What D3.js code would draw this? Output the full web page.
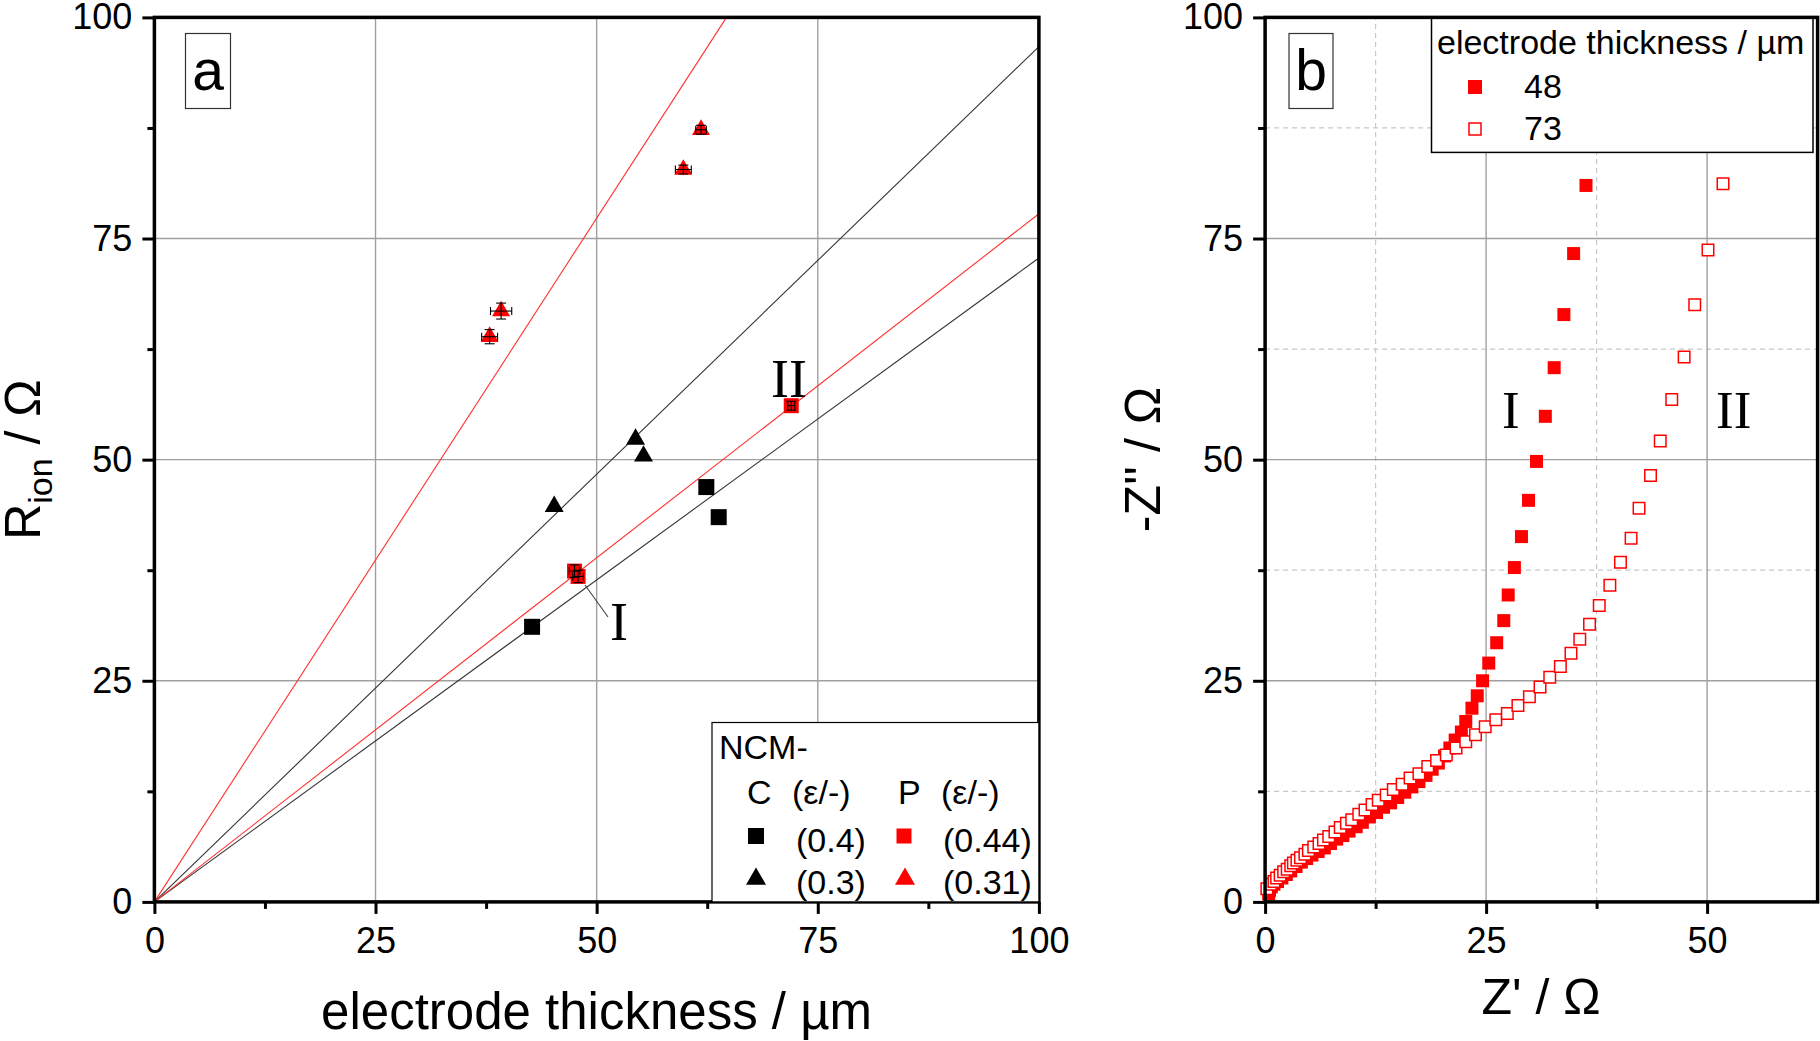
<!DOCTYPE html>
<html lang="en">
<head>
<meta charset="UTF-8" />
<title>R_ion vs electrode thickness and impedance spectra</title>
<script src="https://d3js.org/d3.v7.min.js"></script>
<style>
  body { margin: 0; background: #fff; }
  svg { display: block; font-family: Arial, "Liberation Sans", sans-serif; }
</style>
</head>
<body>
<svg id="chart" width="1820" height="1041"></svg>
<script>
// ---- panel a : ionic resistance vs electrode thickness ----
const thickC04 = [42.7, 62.4, 63.8];
const rionC04  = [31.1, 46.9, 43.5];
const thickC03 = [45.2, 54.4, 55.3];
const rionC03  = [44.7, 52.3, 50.4];
const thickP044 = [47.5, 47.9, 72.0];
const rionP044  = [37.4, 36.8, 56.1];
const xerrP044  = [0.6, 0.6, 0.4];
const yerrP044  = [0.7, 0.7, 0.5];
const thickP031 = [37.9, 39.2, 59.8, 61.8];
const rionP031  = [63.9, 66.8, 82.8, 87.3];
const xerrP031  = [0.9, 1.2, 0.9, 0.6];
const yerrP031  = [0.8, 0.9, 0.5, 0.5];
// linear fits through the origin (Ω per µm)
const fitNames  = ["C04", "C03", "P044", "P031"];
const fitSlopes = [0.728, 0.967, 0.778, 1.546];

// ---- panel b : Nyquist plot, 48 µm and 73 µm ----
const zRe48 = [0.4, 0.5, 0.7, 1.0, 1.4, 1.9, 2.4, 2.9, 3.5, 4.1, 4.7, 5.3, 6.0, 6.7, 7.4, 8.1, 8.8, 9.5,
  10.3, 11.0, 11.8, 12.6, 13.4, 14.2, 15.0, 15.8, 16.6, 17.4, 18.2, 18.9, 19.6, 20.3, 20.9, 21.5, 22.2,
  22.7, 23.4, 24.0, 24.6, 25.3, 26.2, 27.0, 27.5, 28.2, 29.0, 29.8, 30.7, 31.7, 32.7, 33.8, 34.9, 36.3];
const zIm48 = [0.9, 1.3, 1.7, 2.0, 2.3, 2.7, 3.1, 3.5, 4.0, 4.5, 4.9, 5.3, 5.7, 6.1, 6.6, 7.1, 7.5, 8.0,
  8.5, 9.0, 9.6, 10.1, 10.7, 11.2, 11.8, 12.4, 13.0, 13.6, 14.3, 15.0, 15.7, 16.5, 17.4, 18.3, 19.2,
  20.4, 21.9, 23.3, 25.0, 27.0, 29.3, 31.8, 34.7, 37.8, 41.3, 45.4, 49.8, 54.9, 60.4, 66.4, 73.3, 81.0];
const zRe73 = [0.2, 0.6, 1.0, 1.3, 1.7, 2.1, 2.5, 2.9, 3.2, 3.6, 4.0, 4.5, 4.9, 5.5, 6.1, 6.6, 7.2, 7.9,
  8.5, 9.2, 9.8, 10.6, 11.3, 12.1, 12.8, 13.7, 14.5, 15.5, 16.4, 17.4, 18.4, 19.4, 20.5, 21.6, 22.7,
  23.8, 24.9, 26.1, 27.4, 28.6, 29.9, 31.1, 32.2, 33.4, 34.6, 35.6, 36.7, 37.8, 39.0, 40.2, 41.4,
  42.3, 43.6, 44.7, 46.0, 47.4, 48.6, 50.1, 51.8];
const zIm73 = [1.5, 2.0, 2.3, 2.7, 3.0, 3.4, 3.7, 4.1, 4.4, 4.7, 5.0, 5.4, 5.8, 6.2, 6.6, 7.0, 7.4, 7.9,
  8.4, 8.9, 9.3, 9.9, 10.4, 11.0, 11.5, 12.1, 12.7, 13.3, 14.0, 14.5, 15.3, 16.0, 16.6, 17.4, 18.1,
  18.9, 19.8, 20.6, 21.3, 22.2, 23.2, 24.3, 25.4, 26.6, 28.1, 29.7, 31.4, 33.5, 35.8, 38.4, 41.1,
  44.5, 48.2, 52.1, 56.8, 61.6, 67.5, 73.7, 81.2];

const majorTicksA = [0, 25, 50, 75, 100];
const minorTicksA = [12.5, 37.5, 62.5, 87.5];
const majorTicksBx = [0, 25, 50];
const minorTicksBx = [12.5, 37.5];

const RED = "#ff0000";
const svg = d3.select("#chart");
svg.append("rect").attr("width", 1820).attr("height", 1041).attr("fill", "#fff");

const xA = d3.scaleLinear().domain([0, 100]).range([154.4, 1038.9]);
const yA = d3.scaleLinear().domain([0, 100]).range([901.9, 17.4]);
const xB = d3.scaleLinear().domain([0, 62.5]).range([1265.1, 1817.6]);
const yB = d3.scaleLinear().domain([0, 100]).range([901.9, 17.4]);

function grid(g, x, y, xs, ys, dashed) {
  const gg = g.append("g").attr("stroke", dashed ? "#c8c8c8" : "#a0a0a0")
    .attr("stroke-width", dashed ? 1.2 : 1.4).attr("stroke-dasharray", dashed ? "5,4" : null);
  xs.forEach(v => gg.append("line").attr("x1", x(v)).attr("x2", x(v)).attr("y1", y.range()[0]).attr("y2", y.range()[1]));
  ys.forEach(v => gg.append("line").attr("y1", y(v)).attr("y2", y(v)).attr("x1", x.range()[0]).attr("x2", x.range()[1]));
}

function axes(g, x, y, xMajor, xMinor, yMajor, yMinor) {
  const x0 = x.range()[0], x1 = x.range()[1], y0 = y.range()[0], y1 = y.range()[1];
  const style = sel => {
    sel.select(".domain").remove();
    sel.selectAll(".tick line").attr("stroke", "#000").attr("stroke-width", 3);
    sel.selectAll(".tick text").attr("font-size", 36).attr("fill", "#000").attr("font-family", "Arial, 'Liberation Sans'");
  };
  g.append("g").attr("transform", `translate(0,${y0})`)
    .call(d3.axisBottom(x).tickValues(xMajor).tickSize(12).tickPadding(14).tickFormat(d3.format("d"))).call(style);
  g.append("g").attr("transform", `translate(0,${y0})`)
    .call(d3.axisBottom(x).tickValues(xMinor).tickSize(7).tickFormat("")).call(style);
  g.append("g").attr("transform", `translate(${x0},0)`)
    .call(d3.axisLeft(y).tickValues(yMajor).tickSize(12).tickPadding(10).tickFormat(d3.format("d"))).call(style);
  g.append("g").attr("transform", `translate(${x0},0)`)
    .call(d3.axisLeft(y).tickValues(yMinor).tickSize(7).tickFormat("")).call(style);
  g.append("rect").attr("x", x0).attr("y", y1).attr("width", x1 - x0).attr("height", y0 - y1)
    .attr("fill", "none").attr("stroke", "#000").attr("stroke-width", 3.5);
}

function errorBars(g, x, y, xs, ys, xe, ye) {
  const eg = g.append("g").attr("stroke", "#000").attr("stroke-width", 1.1);
  xs.forEach((v, i) => {
    const cx = x(v), cy = y(ys[i]);
    const xl = x(v - xe[i]), xr = x(v + xe[i]), yt = y(ys[i] + ye[i]), yb = y(ys[i] - ye[i]);
    eg.append("line").attr("x1", xl).attr("x2", xr).attr("y1", cy).attr("y2", cy);
    eg.append("line").attr("x1", xl).attr("x2", xl).attr("y1", cy - 4).attr("y2", cy + 4);
    eg.append("line").attr("x1", xr).attr("x2", xr).attr("y1", cy - 4).attr("y2", cy + 4);
    eg.append("line").attr("x1", cx).attr("x2", cx).attr("y1", yt).attr("y2", yb);
    eg.append("line").attr("x1", cx - 5).attr("x2", cx + 5).attr("y1", yt).attr("y2", yt);
    eg.append("line").attr("x1", cx - 5).attr("x2", cx + 5).attr("y1", yb).attr("y2", yb);
  });
}

const square = s => d3.symbol(d3.symbolSquare, s * s);
const triangle = s => d3.symbol(d3.symbolTriangle, s * s * Math.sqrt(3) / 4);

function markers(g, x, y, xs, ys, sym, fill, stroke, sw) {
  g.append("g").selectAll("path").data(xs).join("path")
    .attr("transform", (d, i) => `translate(${x(d)},${y(ys[i])})`)
    .attr("d", sym())
    .attr("fill", fill).attr("stroke", stroke || "none").attr("stroke-width", sw || 0);
}

// ================= panel a =================
const ga = svg.append("g");
grid(ga, xA, yA, [25, 50, 75], [25, 50, 75], false);

const fitColor = { C04: "#333", C03: "#333", P044: "#ff3030", P031: "#ff3030" };
fitNames.forEach((n, i) => {
  const m = fitSlopes[i];
  const xe = Math.min(100, 100 / m);
  ga.append("line").attr("x1", xA(0)).attr("y1", yA(0)).attr("x2", xA(xe)).attr("y2", yA(m * xe))
    .attr("stroke", fitColor[n]).attr("stroke-width", 1.1);
});

markers(ga, xA, yA, thickC04, rionC04, square(16), "#000");
markers(ga, xA, yA, thickC03, rionC03, triangle(19), "#000");
markers(ga, xA, yA, thickP044, rionP044, square(15), RED);
errorBars(ga, xA, yA, thickP044, rionP044, xerrP044, yerrP044);
markers(ga, xA, yA, thickP031, rionP031, triangle(18), RED);
errorBars(ga, xA, yA, thickP031, rionP031, xerrP031, yerrP031);

// annotations I / II
ga.append("line").attr("x1", 585).attr("y1", 585).attr("x2", 608).attr("y2", 617)
  .attr("stroke", "#444").attr("stroke-width", 1.1);
ga.append("text").attr("x", 610).attr("y", 640).attr("font-family", "'Liberation Serif', 'Times New Roman', serif")
  .attr("font-size", 54).text("I");
ga.append("text").attr("x", 771).attr("y", 397).attr("font-family", "'Liberation Serif', 'Times New Roman', serif")
  .attr("font-size", 54).text("II");

axes(ga, xA, yA, majorTicksA, minorTicksA, majorTicksA, minorTicksA);

// panel label
ga.append("rect").attr("x", 185.5).attr("y", 33.5).attr("width", 45).attr("height", 75)
  .attr("fill", "#fff").attr("stroke", "#333").attr("stroke-width", 1.2);
ga.append("text").attr("x", 208).attr("y", 90).attr("text-anchor", "middle").attr("font-size", 57).text("a");

// legend a
const la = ga.append("g");
la.append("rect").attr("x", 712).attr("y", 722.5).attr("width", 326.9).attr("height", 179.4)
  .attr("fill", "#fff").attr("stroke", "#000").attr("stroke-width", 1.2);
la.append("text").attr("x", 719).attr("y", 759).attr("font-size", 34).text("NCM-");
[["C", 747], ["(ε/-)", 792], ["P", 898], ["(ε/-)", 941]].forEach(([t, x]) =>
  la.append("text").attr("x", x).attr("y", 804).attr("font-size", 34).text(t));
la.append("path").attr("transform", "translate(756,836)").attr("d", square(16)()).attr("fill", "#000");
la.append("path").attr("transform", "translate(904,836)").attr("d", square(15)()).attr("fill", RED);
la.append("path").attr("transform", "translate(756,879)").attr("d", triangle(20)()).attr("fill", "#000");
la.append("path").attr("transform", "translate(905,879)").attr("d", triangle(20)()).attr("fill", RED);
la.append("text").attr("x", 796).attr("y", 852).attr("font-size", 34).text("(0.4)");
la.append("text").attr("x", 943).attr("y", 852).attr("font-size", 34).text("(0.44)");
la.append("text").attr("x", 796).attr("y", 894).attr("font-size", 34).text("(0.3)");
la.append("text").attr("x", 943).attr("y", 894).attr("font-size", 34).text("(0.31)");

// axis titles a
ga.append("text").attr("x", 596.6).attr("y", 1029).attr("text-anchor", "middle").attr("font-size", 51)
  .text("electrode thickness / µm");
const ta = ga.append("text").attr("transform", "translate(40,459.6) rotate(-90)")
  .attr("text-anchor", "middle").attr("font-size", 50);
ta.append("tspan").text("R");
ta.append("tspan").attr("font-size", 34).attr("dy", 12).text("ion");
ta.append("tspan").attr("dy", -12).text(" / Ω");

// ================= panel b =================
const gb = svg.append("g");
grid(gb, xB, yB, [12.5, 37.5], [12.5, 37.5, 62.5, 87.5], true);
grid(gb, xB, yB, [25, 50], [25, 50, 75], false);

markers(gb, xB, yB, zRe48, zIm48, square(13), RED);
markers(gb, xB, yB, zRe73, zIm73, square(11.5), "#fff", RED, 1.5);

gb.append("text").attr("x", 1502).attr("y", 428).attr("font-family", "'Liberation Serif', 'Times New Roman', serif")
  .attr("font-size", 53).text("I");
gb.append("text").attr("x", 1716).attr("y", 428).attr("font-family", "'Liberation Serif', 'Times New Roman', serif")
  .attr("font-size", 53).text("II");

// legend b
const lb = gb.append("g");
lb.append("rect").attr("x", 1431.5).attr("y", 17.4).attr("width", 381.5).attr("height", 135)
  .attr("fill", "#fff").attr("stroke", "#000").attr("stroke-width", 1.5);
lb.append("text").attr("x", 1437).attr("y", 54).attr("font-size", 34).text("electrode thickness / µm");
lb.append("path").attr("transform", "translate(1475,87)").attr("d", square(14)()).attr("fill", RED);
lb.append("path").attr("transform", "translate(1475,129)").attr("d", square(12)())
  .attr("fill", "#fff").attr("stroke", RED).attr("stroke-width", 1.5);
lb.append("text").attr("x", 1524).attr("y", 98).attr("font-size", 34).text("48");
lb.append("text").attr("x", 1524).attr("y", 140).attr("font-size", 34).text("73");

axes(gb, xB, yB, majorTicksBx, minorTicksBx, majorTicksA, minorTicksA);

gb.append("rect").attr("x", 1289).attr("y", 33.5).attr("width", 44).attr("height", 75)
  .attr("fill", "#fff").attr("stroke", "#333").attr("stroke-width", 1.2);
gb.append("text").attr("x", 1311).attr("y", 90).attr("text-anchor", "middle").attr("font-size", 57).text("b");

gb.append("text").attr("x", 1541).attr("y", 1014).attr("text-anchor", "middle").attr("font-size", 50)
  .text("Z' / Ω");
gb.append("text").attr("transform", "translate(1160,459.6) rotate(-90)")
  .attr("text-anchor", "middle").attr("font-size", 50).text("-Z'' / Ω");
</script>
</body>
</html>
